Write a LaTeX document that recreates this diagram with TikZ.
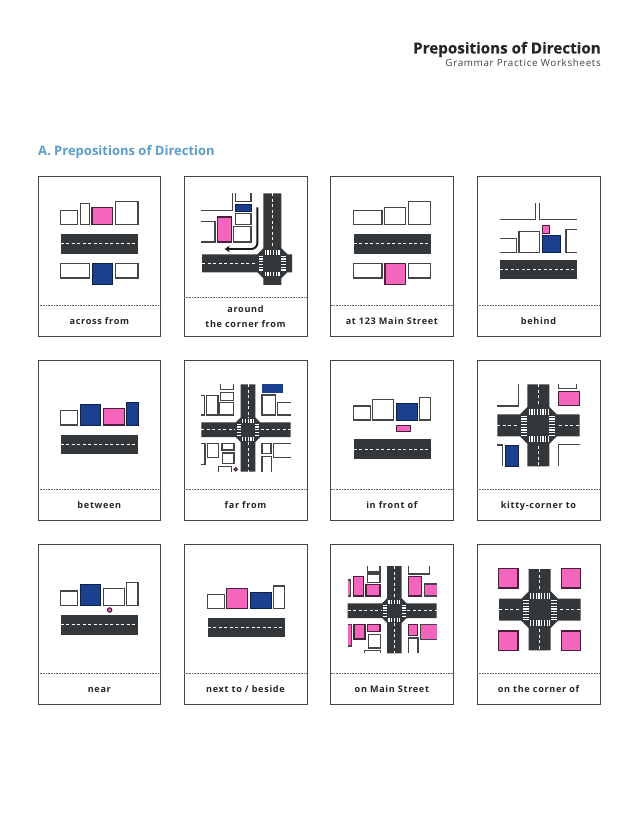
\documentclass[tikz,border=0pt]{standalone}
\usepackage{fontspec}
\setmainfont{Open Sans}
\newfontfamily\labfont[LetterSpace=7.5]{Open Sans}
\newfontfamily\subfont[LetterSpace=7]{Open Sans}
\newfontfamily\titlefont[FakeBold=0.35]{Open Sans Bold}
\usetikzlibrary{arrows.meta}
\definecolor{roadc}{HTML}{33373A}
\definecolor{linec}{HTML}{454547}
\definecolor{pinkc}{HTML}{F466BE}
\definecolor{bluec}{HTML}{1B408F}
\definecolor{headc}{HTML}{5C9DC9}
\definecolor{textc}{HTML}{262626}
\tikzset{
  bd/.style={draw=linec,line width=1.15pt,fill=white,line join=miter},
  ol/.style={draw=linec,line width=1.15pt},
  pk/.style={draw=black!70!pinkc,line width=1.1pt,fill=pinkc},
  bl/.style={draw=black!50!bluec,line width=.8pt,fill=bluec},
  road/.style={fill=roadc},
  cl/.style={draw=white,line width=.95pt,dash pattern=on 3pt off 2.5pt},
  cardbox/.style={draw=linec,line width=.9pt,fill=white},
  sep/.style={draw=black!60,line width=.55pt,dash pattern=on .8pt off .8pt},
  lab/.style={font=\labfont\bfseries\fontsize{9.1}{15}\selectfont,text=textc,align=center,inner sep=0pt},
  z/.style={shift={#1},x=.33333pt,y=-.33333pt}
}
% card: name, x1, x2, y1, y2, ysep, label centre y, label
\newcommand\card[8]{%
  \draw[cardbox] (#2,#4) rectangle (#3,#5);
  \draw[sep] (#2,#6) -- (#3,#6);
  \node[lab] (#1) at ({(#2+#3)/2},#7) {\strut #8\strut};
}
% straight road: x1,x2,y1,y2
\newcommand\strip[4]{%
  \fill[road] (#1,#3) rectangle (#2,#4);
  \draw[cl] (#1,{(#3+#4)/2}) -- (#2,{(#3+#4)/2});
}
% crossing: cx,cy,hv,hh,L,R,T,B,r ; \bandlen = stripe length
\newcommand\crossing[9]{%
  \pgfmathsetmacro\xa{#1-#3}\pgfmathsetmacro\xb{#1+#3}%
  \pgfmathsetmacro\ya{#2-#4}\pgfmathsetmacro\yb{#2+#4}%
  \pgfmathsetmacro\xar{\xa-#9}\pgfmathsetmacro\xbr{\xb+#9}%
  \pgfmathsetmacro\yar{\ya-#9}\pgfmathsetmacro\ybr{\yb+#9}%
  \pgfmathsetmacro\xam{\xa-.45*#9}\pgfmathsetmacro\xbm{\xb+.45*#9}%
  \pgfmathsetmacro\yam{\ya-.45*#9}\pgfmathsetmacro\ybm{\yb+.45*#9}%
  \fill[road] (\xa,#7) -- (\xa,\yar) .. controls (\xam,\yam) .. (\xar,\ya) -- (#5,\ya) -- (#5,\yb) -- (\xar,\yb)
    .. controls (\xam,\ybm) .. (\xa,\ybr) -- (\xa,#8) -- (\xb,#8) -- (\xb,\ybr) .. controls (\xbm,\ybm) .. (\xbr,\yb)
    -- (#6,\yb) -- (#6,\ya) -- (\xbr,\ya) .. controls (\xbm,\yam) .. (\xb,\yar) -- (\xb,#7) -- cycle;
  \pgfmathsetmacro\bw{\bandlen*.33333}%
  \pgfmathsetmacro\ct{\ya-\bandlen/2+1}\pgfmathsetmacro\cb{\yb+\bandlen/2-1}%
  \pgfmathsetmacro\cl{\xa-\bandlen/2}\pgfmathsetmacro\cR{\xb+\bandlen/2}%
  \pgfmathsetmacro\xc{\xa+4}\pgfmathsetmacro\xd{\xb-4}%
  \pgfmathsetmacro\yc{\ya+4}\pgfmathsetmacro\yd{\yb-4}%
  \draw[white,line width=\bw pt,dash pattern=on 1.3pt off 1.45pt] (\xc,\ct) -- (\xd,\ct);
  \draw[white,line width=\bw pt,dash pattern=on 1.3pt off 1.45pt] (\xc,\cb) -- (\xd,\cb);
  \draw[white,line width=\bw pt,dash pattern=on 1.3pt off 1.45pt] (\cl,\yc) -- (\cl,\yd);
  \draw[white,line width=\bw pt,dash pattern=on 1.3pt off 1.45pt] (\cR,\yc) -- (\cR,\yd);
}
\begin{document}
\begin{tikzpicture}[x=1pt,y=-1pt]
\useasboundingbox (0,0) rectangle (638,826);
\fill[white] (0,0) rectangle (638,826);
\node[anchor=base east,inner sep=0pt,text=textc,font=\titlefont\fontsize{15.2}{18}\selectfont] (title) at (601,53.5) {Prepositions of Direction};
\node[anchor=base east,inner sep=0pt,text=black!75,font=\subfont\fontsize{9.8}{11}\selectfont] (subtitle) at (601,66.5) {Grammar Practice Worksheets};
\node[anchor=base west,inner sep=0pt,text=headc,font=\bfseries\fontsize{13}{15}\selectfont] (heading) at (38,155.5) {A. Prepositions of Direction};

\card{c1}{38}{160.7}{176}{336}{305}{321.5}{across from}
\card{c2}{184}{307}{176}{336}{297}{317}{around\\the corner from}
\card{c3}{330.7}{453}{176}{336}{305}{321.5}{at 123 Main Street}
\card{c4}{477}{600}{176}{336}{305}{321.5}{behind}
\card{c5}{38}{160.7}{360}{520}{489}{505.5}{between}
\card{c6}{184}{307}{360}{520}{489}{505.5}{far from}
\card{c7}{330.7}{453}{360}{520}{489}{505.5}{in front of}
\card{c8}{477}{600}{360}{520}{489}{505.5}{kitty-corner to}
\card{c9}{38}{160.7}{544}{704}{673}{689.5}{near}
\card{c10}{184}{307}{544}{704}{673}{689.5}{next to / beside}
\card{c11}{330.7}{453}{544}{704}{673}{689.5}{on Main Street}
\card{c12}{477}{600}{544}{704}{673}{689.5}{on the corner of}

% row 1, left
\begin{scope}[z={(30,170)}]
  \draw[bd] (92,121) rectangle (142,163);
  \draw[bd] (151,101) rectangle (178,163);
  \draw[pk] (186,113) rectangle (248,163);
  \draw[bd] (257,95) rectangle (324,163);
  \strip{92}{324}{192}{251}
  \draw[bd] (92,281) rectangle (178,324);
  \draw[bl] (186,281) rectangle (248,344);
  \draw[bd] (257,281) rectangle (324,324);
  % card 2
  \def\bandlen{13}
  \crossing{727}{280}{27}{27}{516}{786}{70}{345}{18}
  \draw[cl] (727,70) -- (727,234);
  \draw[cl] (516,280) -- (680,280);
  \draw[ol] (607,70) -- (607,122) -- (513,122);
  \draw[ol] (513,155) -- (555,155) -- (555,216) -- (513,216);
  \draw[pk] (563,141) rectangle (605,216);
  \draw[ol] (617,70) -- (617,94) -- (663,94) -- (663,70);
  \draw[bl] (617,102) rectangle (663,123);
  \draw[bd] (617,131) rectangle (663,163);
  \draw[bd] (611,170) rectangle (663,216);
  \draw[draw=black!90,line width=1.9pt,rounded corners=6pt,-{Stealth[length=5pt,width=6.5pt]}] (682,112) -- (682,237) -- (584,237);
\end{scope}
% row 1, right
\begin{scope}[z={(325,170)}]
  \draw[bd] (86,121) rectangle (171,163);
  \draw[bd] (178,113) rectangle (242,163);
  \draw[bd] (250,95) rectangle (317,163);
  \strip{86}{317}{192}{251}
  \draw[bd] (86,281) rectangle (171,324);
  \draw[pk] (180,281) rectangle (242,344);
  \draw[bd] (250,281) rectangle (317,324);
  % card 4
  \draw[ol] (524,148) -- (632,148) -- (632,98);
  \draw[ol] (644,98) -- (644,148) -- (757,148);
  \draw[ol] (524,205) -- (575,205) -- (575,247) -- (524,247);
  \draw[bd] (582,185) rectangle (644,247);
  \draw[bl] (652,196) rectangle (707,247);
  \draw[pk] (653,167) rectangle (674,190);
  \draw[ol] (757,178) -- (723,178) -- (723,247) -- (757,247);
  \strip{524}{757}{269}{328}
\end{scope}
% row 2, left
\begin{scope}[z={(30,355)}]
  \draw[bd] (92,167) rectangle (142,210);
  \draw[bl] (150,148) rectangle (212,210);
  \draw[pk] (220,160) rectangle (284,210);
  \draw[bl] (290,141) rectangle (324,210);
  \strip{92}{324}{239}{298}
  % card 6
  \def\bandlen{12}
  \crossing{654}{224}{22}{22}{514}{782}{88}{350}{15}
  \draw[cl] (654,88) -- (654,188);
  \draw[cl] (654,262) -- (654,350);
  \draw[cl] (514,224) -- (616,224);
  \draw[cl] (692,224) -- (782,224);
  \fill[bluec] (696,88) rectangle (759,114);
  \draw[bd] (696,120) rectangle (737,180);
  \draw[ol] (782,142) -- (743,142) -- (743,180) -- (782,180);
  \draw[ol] (514,121) -- (524,121) -- (524,180) -- (514,180);
  \draw[bd] (530,121) rectangle (564,180);
  \draw[ol] (572,88) -- (572,104) -- (610,104) -- (610,88);
  \draw[bd] (572,112) rectangle (610,137);
  \draw[bd] (568,143) rectangle (610,180);
  \draw[ol] (514,265) -- (525,265) -- (525,328) -- (514,328);
  \draw[bd] (533,265) rectangle (566,308);
  \draw[bd] (576,265) rectangle (612,285);
  \draw[bd] (578,294) rectangle (612,326);
  \draw[ol] (565,350) -- (565,335) -- (604,335) -- (604,350);
  \draw[pk] (617,343) circle (5);
  \draw[bd] (696,265) rectangle (723,296);
  \draw[ol] (696,350) -- (696,304) -- (725,304) -- (725,350);
  \draw[ol] (782,265) -- (731,265) -- (731,308) -- (782,308);
\end{scope}
% row 2, right
\begin{scope}[z={(325,355)}]
  \draw[bd] (86,153) rectangle (136,195);
  \draw[bd] (143,134) rectangle (205,195);
  \draw[bl] (214,146) rectangle (277,195);
  \draw[bd] (284,127) rectangle (317,195);
  \draw[pk] (214,211) rectangle (256,229);
  \strip{86}{317}{253}{312}
  % card 8
  \def\bandlen{18}
  \crossing{640}{211}{33}{33}{517}{764}{88}{334}{22}
  \draw[cl] (640,88) -- (640,152);
  \draw[cl] (640,272) -- (640,334);
  \draw[cl] (517,211) -- (580,211);
  \draw[cl] (702,211) -- (764,211);
  \draw[ol] (517,153) -- (581,153) -- (581,88);
  \draw[ol] (701,88) -- (701,100) -- (755,100) -- (755,88);
  \draw[pk] (701,110) rectangle (764,152);
  \draw[ol] (517,270) -- (533,270) -- (533,334);
  \draw[bl] (541,270) rectangle (579,334);
  \draw[ol] (701,334) -- (701,268) -- (764,268);
\end{scope}
% row 3, left
\begin{scope}[z={(30,540)}]
  \draw[bd] (92,153) rectangle (142,196);
  \draw[bl] (150,134) rectangle (212,196);
  \draw[bd] (220,146) rectangle (284,196);
  \draw[bd] (290,127) rectangle (324,196);
  \draw[pk] (239,210) circle (6.5);
  \strip{92}{324}{225}{284}
  % card 10
  \draw[bd] (533,164) rectangle (583,206);
  \draw[pk] (590,145) rectangle (652,206);
  \draw[bl] (661,157) rectangle (724,206);
  \draw[bd] (731,138) rectangle (764,206);
  \strip{533}{764}{234}{292}
\end{scope}
% row 3, right
\begin{scope}[z={(325,540)}]
  % card 11
  \def\bandlen{12}
  \crossing{208}{212}{22}{22}{68}{335}{78}{340}{15}
  \draw[cl] (208,78) -- (208,176);
  \draw[cl] (208,250) -- (208,340);
  \draw[cl] (68,212) -- (170,212);
  \draw[cl] (246,212) -- (335,212);
  \fill[pinkc] (68,120) rectangle (77,168);
  \draw[ol] (68,120) -- (77,120) -- (77,168) -- (68,168);
  \draw[pk] (85,110) rectangle (116,168);
  \draw[ol] (127,78) -- (127,96) -- (165,96) -- (165,78);
  \draw[bd] (127,102) rectangle (165,127);
  \draw[pk] (123,134) rectangle (165,168);
  \draw[ol] (250,78) -- (250,102) -- (313,102) -- (313,78);
  \draw[pk] (250,110) rectangle (290,168);
  \fill[pinkc] (298,132) rectangle (335,168);
  \draw[ol] (335,132) -- (298,132) -- (298,168) -- (335,168);
  \fill[pinkc] (68,253) rectangle (79,318);
  \draw[ol] (68,253) -- (79,253) -- (79,318) -- (68,318);
  \draw[pk] (87,254) rectangle (120,297);
  \draw[pk] (127,254) rectangle (165,274);
  \draw[bd] (131,283) rectangle (167,324);
  \draw[ol] (119,340) -- (119,332) -- (167,332) -- (167,340);
  \draw[pk] (251,254) rectangle (277,286);
  \draw[ol] (251,340) -- (251,294) -- (279,294) -- (279,340);
  \fill[pinkc] (286,254) rectangle (335,298);
  \draw[ol] (335,254) -- (286,254) -- (286,298) -- (335,298);
  % card 12
  \def\bandlen{18}
  \crossing{644}{209}{33}{33}{522}{767}{87}{331}{22}
  \draw[cl] (644,87) -- (644,150);
  \draw[cl] (644,268) -- (644,331);
  \draw[cl] (522,209) -- (584,209);
  \draw[cl] (706,209) -- (767,209);
  \draw[pk] (521,86) rectangle (579,144);
  \draw[pk] (709,86) rectangle (767,144);
  \draw[pk] (521,273) rectangle (579,331);
  \draw[pk] (709,273) rectangle (767,331);
\end{scope}
\end{tikzpicture}
\end{document}
